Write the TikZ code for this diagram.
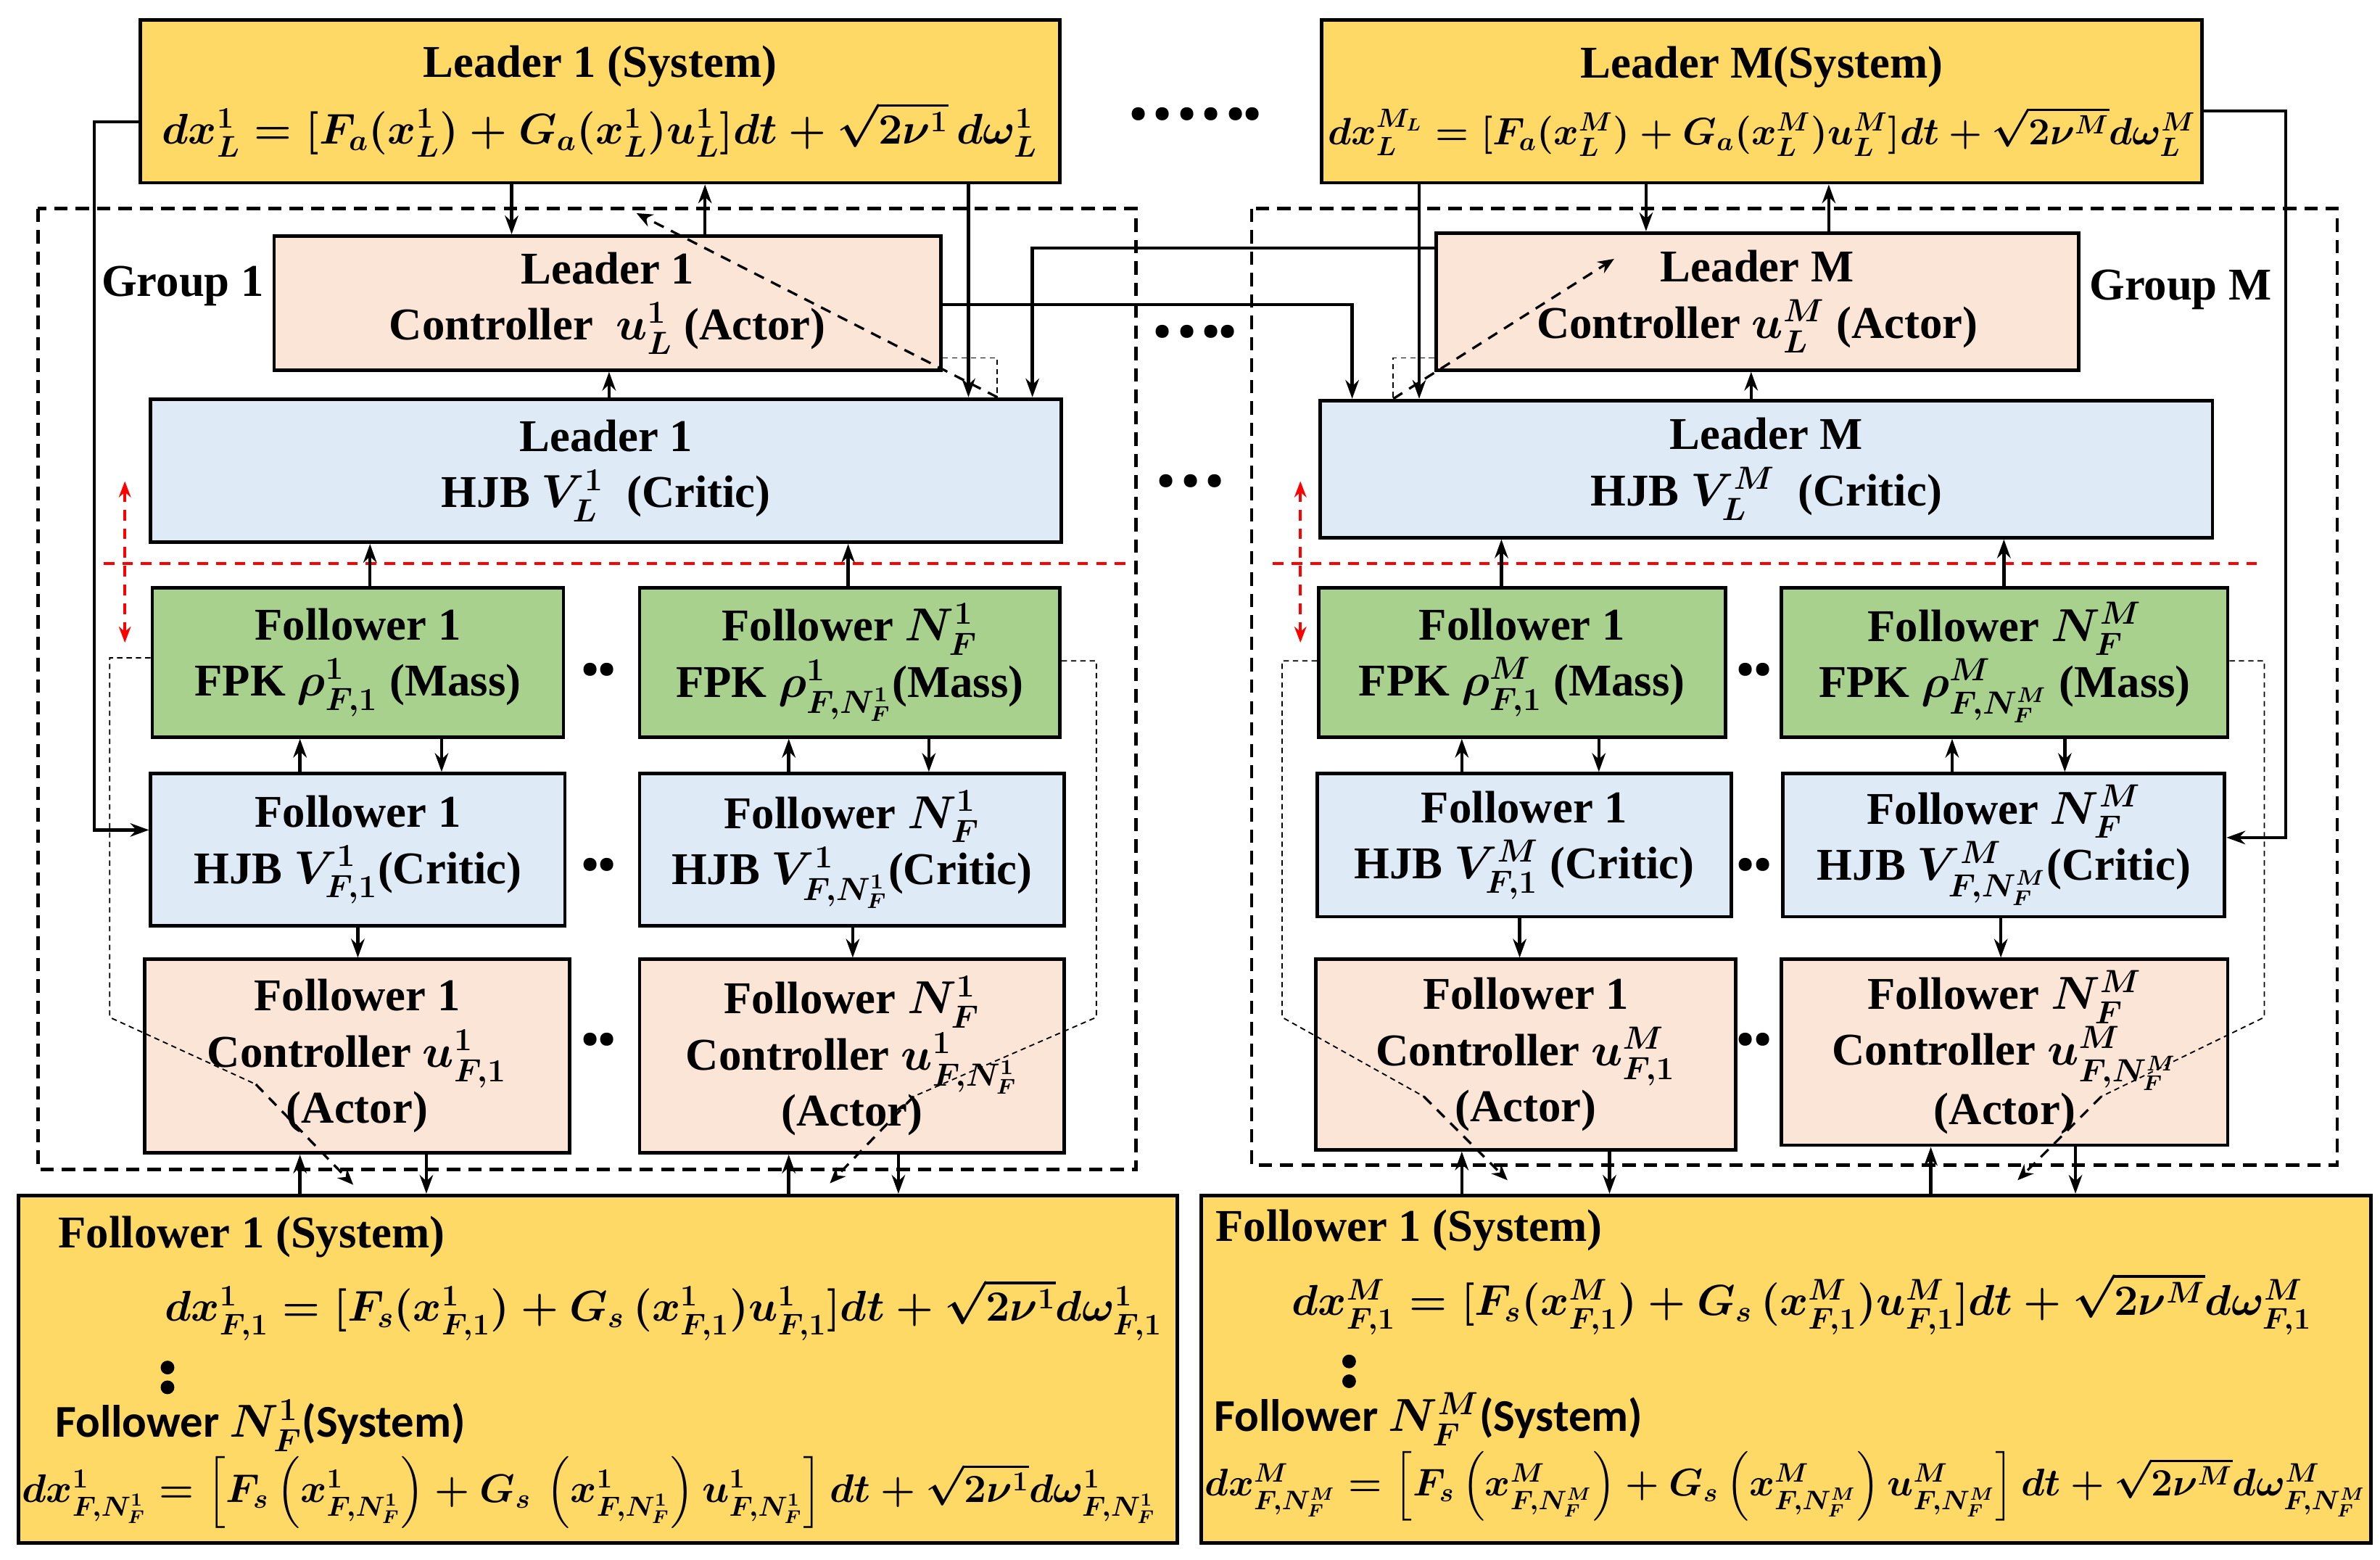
\documentclass[tikz,border=0pt]{standalone}
\usepackage{amsmath,graphicx}
\usepackage{fontspec}
\setmainfont{Liberation Serif}
\newfontfamily\sansf{Carlito}
\usetikzlibrary{arrows.meta,calc}
\definecolor{ylw}{HTML}{FFD966}
\definecolor{pch}{HTML}{FBE5D6}
\definecolor{lbl}{HTML}{DEEBF7}
\definecolor{grn}{HTML}{A9D18E}
\newcommand\bx[7]{\node[box,fill=#6,minimum width={(#4-#2)*0.02cm},minimum height={(#5-#3)*0.02cm}] (#1) at ({(#2+#4)/2},{(#3+#5)/2}) {#7};}
\newcommand\rz[2]{\resizebox{#1cm}{!}{#2}}
\tikzset{
 box/.style={draw,line width=1.3pt,inner sep=0pt,align=center,font=\fontsize{17}{21}\selectfont\bfseries\boldmath},
 ar/.style={line width=1.2pt,-{Stealth[length=7pt,width=5pt]}},
 grp/.style={line width=1.2pt,dash pattern=on 5pt off 3pt},
 thd/.style={line width=0.5pt,dash pattern=on 2pt off 1.5pt},
 dar/.style={line width=0.9pt,dash pattern=on 4pt off 3pt,-{Stealth[length=6pt,width=5pt]}},
 red/.style={draw=red,line width=1.2pt,dash pattern=on 4pt off 3pt},
 txt/.style={font=\fontsize{17}{21}\selectfont\bfseries\boldmath,inner sep=0pt},
 dt/.style={font=\fontsize{11}{11}\selectfont\boldmath,inner sep=0pt}
}
\begin{document}
\begin{tikzpicture}[x=0.02cm,y=-0.02cm]
\useasboundingbox (0,0) rectangle (1563,1024);
\draw[grp] (25,137) rectangle (746,768);
\draw[grp] (822,137) rectangle (1535,765);
\bx{lsa}{92}{13}{696}{120}{ylw}{Leader 1 (System)\\[4pt] \rz{11.5}{$dx_L^1=[F_a(x_L^1)+G_a(x_L^1)u_L^1]dt+\sqrt{2\nu^1}\,d\omega_L^1$}}
\bx{lsm}{868}{13}{1446}{120}{ylw}{Leader M(System)\\[4pt] \rz{11.4}{$dx_L^{M_L}=[F_a(x_L^M)+G_a(x_L^M)u_L^M]dt+\sqrt{2\nu^M}d\omega_L^M$}}
\bx{lca}{180}{155}{618}{243}{pch}{Leader 1\\Controller\ \ $u_L^1$ (Actor)}
\bx{lha}{99}{262}{697}{356}{lbl}{Leader 1\\HJB $V_L^1$\ \ (Critic)}
\bx{fpa}{100}{386}{370}{484}{grn}{Follower 1\\FPK $\rho_{F,1}^1$ (Mass)}
\bx{fpan}{420}{386}{696}{484}{grn}{Follower $N_F^1$\\FPK $\rho^1_{F,N_F^1}$(Mass)}
\bx{fha}{99}{508}{371}{608}{lbl}{Follower 1\\HJB $V^1_{F,1}$(Critic)}
\bx{fhan}{420}{508}{699}{608}{lbl}{Follower $N_F^1$\\HJB $V^1_{F,N_F^1}$(Critic)}
\bx{fca}{95}{630}{374}{757}{pch}{Follower 1\\Controller $u^1_{F,1}$\\(Actor)}
\bx{fcan}{420}{630}{699}{757}{pch}{Follower $N_F^1$\\Controller $u^1_{F,N_F^1}$\\(Actor)}
\bx{lcm}{943}{153}{1365}{243}{pch}{Leader M\\Controller $u_L^M$\ (Actor)}
\bx{lhm}{867}{263}{1453}{353}{lbl}{Leader M\\HJB $V_L^M$\ \ (Critic)}
\bx{fpm}{866}{386}{1133}{484}{grn}{Follower 1\\FPK $\rho_{F,1}^M$ (Mass)}
\bx{fpmn}{1170}{386}{1463}{484}{grn}{Follower $N_F^M$\\FPK $\rho^M_{F,N_F^M}$ (Mass)}
\bx{fhm}{865}{508}{1137}{602}{lbl}{Follower 1\\HJB $V^M_{F,1}$ (Critic)}
\bx{fhmn}{1171}{508}{1461}{602}{lbl}{Follower $N_F^M$\\HJB $V^M_{F,N_F^M}$(Critic)}
\bx{fcm}{864}{630}{1140}{755}{pch}{Follower 1\\Controller $u^M_{F,1}$\\(Actor)}
\bx{fcmn}{1170}{630}{1463}{752}{pch}{Follower $N_F^M$\\Controller $u^M_{F,N_F^M}$\\(Actor)}
\bx{fsa}{12}{785}{773}{1013}{ylw}{}
\bx{fsm}{789}{785}{1557}{1013}{ylw}{}
\node[txt,anchor=west] (t1) at (38,812) {Follower 1 (System)};
\node[txt,anchor=west] (t2) at (108,860) {\rz{13.1}{$dx^1_{F,1}=[F_s(x^1_{F,1})+G_s\,(x^1_{F,1})u^1_{F,1}]dt+\sqrt{2\nu^1}d\omega^1_{F,1}$}};
\fill (110,898) circle (4.5) (110,911) circle (4.5);
\node[txt,anchor=west] (t3) at (36,936) {\sansf Follower $N_F^1$(System)};
\node[txt,anchor=west] (t4) at (14,980) {\rz{14.9}{$dx^1_{F,N_F^1}=\left[F_s\left(x^1_{F,N_F^1}\right)+G_s\,\left(x^1_{F,N_F^1}\right)u^1_{F,N_F^1}\right]dt+\sqrt{2\nu^1}d\omega^1_{F,N_F^1}$}};
\node[txt,anchor=west] (t5) at (798,808) {Follower 1 (System)};
\node[txt,anchor=west] (t6) at (848,856) {\rz{13.4}{$dx^M_{F,1}=[F_s(x^M_{F,1})+G_s\,(x^M_{F,1})u^M_{F,1}]dt+\sqrt{2\nu^M}d\omega^M_{F,1}$}};
\fill (886,894) circle (4.5) (886,907) circle (4.5);
\node[txt,anchor=west] (t7) at (797,932) {\sansf Follower $N_F^M$(System)};
\node[txt,anchor=west] (t8) at (791,976) {\rz{15.25}{$dx^M_{F,N_F^M}=\left[F_s\left(x^M_{F,N_F^M}\right)+G_s\left(x^M_{F,N_F^M}\right)u^M_{F,N_F^M}\right]dt+\sqrt{2\nu^M}d\omega^M_{F,N_F^M}$}};
\node[txt] (g1) at (120,188) {Group 1};
\node[txt] (gm) at (1432,190) {Group M};
\node[dt] (k1) at (785,75) {$\bullet\bullet\bullet\bullet\bullet\bullet$};
\node[dt] (k2) at (785,218) {$\bullet\bullet\bullet\bullet$};
\node[dt] (k3) at (782,316) {$\bullet\bullet\bullet$};
\foreach \y in {440,568,683}{\node[dt] at (393,\y) {$\bullet\bullet$}; \node[dt] at (1152,\y) {$\bullet\bullet$};}
\draw[red] (68,370) -- (742,370);
\draw[red] (836,370) -- (1482,370);
\draw[red,{Stealth[length=6pt]}-{Stealth[length=6pt]}] (82,316) -- (82,422);
\draw[red,{Stealth[length=6pt]}-{Stealth[length=6pt]}] (854,316) -- (854,422);
\draw[ar] (lsa.south -| 336,0) -- (lca.north -| 336,0);
\draw[ar] (lca.north -| 463,0) -- (lsa.south -| 463,0);
\draw[ar] (lsa.south -| 636,0) -- (lha.north -| 636,0);
\draw[ar] (lsa.west |- 0,80) -- (62,80) -- (62,545) -- (fha.west |- 0,545);
\draw[ar] (lha.north -| 400,0) -- (lca.south -| 400,0);
\draw[ar] (fpa.north -| 243,0) -- (lha.south -| 243,0);
\draw[ar] (fpan.north -| 557,0) -- (lha.south -| 557,0);
\draw[ar] (fha.north -| 197,0) -- (fpa.south -| 197,0);
\draw[ar] (fpa.south -| 290,0) -- (fha.north -| 290,0);
\draw[ar] (fhan.north -| 518,0) -- (fpan.south -| 518,0);
\draw[ar] (fpan.south -| 610,0) -- (fhan.north -| 610,0);
\draw[ar] (fha.south -| 235,0) -- (fca.north -| 235,0);
\draw[ar] (fhan.south -| 560,0) -- (fcan.north -| 560,0);
\draw[ar] (fsa.north -| 197,0) -- (fca.south -| 197,0);
\draw[ar] (fca.south -| 280,0) -- (fsa.north -| 280,0);
\draw[ar] (fsa.north -| 518,0) -- (fcan.south -| 518,0);
\draw[ar] (fcan.south -| 590,0) -- (fsa.north -| 590,0);
\draw[ar] (lca.east |- 0,200) -- (888,200) -- (lhm.north -| 888,0);
\draw[ar] (lcm.west |- 0,163) -- (678,163) -- (lha.north -| 678,0);
\draw[ar] (lsm.south -| 1081,0) -- (lcm.north -| 1081,0);
\draw[ar] (lcm.north -| 1201,0) -- (lsm.south -| 1201,0);
\draw[ar] (lsm.south -| 932,0) -- (lhm.north -| 932,0);
\draw[ar] (lsm.east |- 0,73) -- (1501,73) -- (1501,550) -- (fhmn.east |- 0,550);
\draw[ar] (lhm.north -| 1150,0) -- (lcm.south -| 1150,0);
\draw[ar] (fpm.north -| 986,0) -- (lhm.south -| 986,0);
\draw[ar] (fpmn.north -| 1316,0) -- (lhm.south -| 1316,0);
\draw[ar] (fhm.north -| 960,0) -- (fpm.south -| 960,0);
\draw[ar] (fpm.south -| 1050,0) -- (fhm.north -| 1050,0);
\draw[ar] (fhmn.north -| 1282,0) -- (fpmn.south -| 1282,0);
\draw[ar] (fpmn.south -| 1356,0) -- (fhmn.north -| 1356,0);
\draw[ar] (fhm.south -| 998,0) -- (fcm.north -| 998,0);
\draw[ar] (fhmn.south -| 1314,0) -- (fcmn.north -| 1314,0);
\draw[ar] (fsm.north -| 960,0) -- (fcm.south -| 960,0);
\draw[ar] (fcm.south -| 1057,0) -- (fsm.north -| 1057,0);
\draw[ar] (fsm.north -| 1268,0) -- (fcmn.south -| 1268,0);
\draw[ar] (fcmn.south -| 1363,0) -- (fsm.north -| 1363,0);
\draw[thd] (lca.east |- 0,235) -- (655,235) -- (lha.north -| 655,0);
\draw[dar] (lha.north -| 655,0) -- (418,140);
\draw[thd] (fpa.west |- 0,432) -- (72,432) -- (72,668) -- (168,712);
\draw[dar] (168,712) -- (232,778);
\draw[thd] (fpan.east |- 0,434) -- (720,434) -- (720,668) -- (600,720);
\draw[dar] (600,720) -- (545,777);
\draw[thd] (lcm.west |- 0,235) -- (915,235) -- (lhm.north -| 915,0);
\draw[dar] (lhm.north -| 915,0) -- (1060,170);
\draw[thd] (fpm.west |- 0,434) -- (842,434) -- (842,668) -- (935,720);
\draw[dar] (935,720) -- (990,775);
\draw[thd] (fpmn.east |- 0,434) -- (1487,434) -- (1487,668) -- (1380,720);
\draw[dar] (1380,720) -- (1325,775);
\end{tikzpicture}
\end{document}
